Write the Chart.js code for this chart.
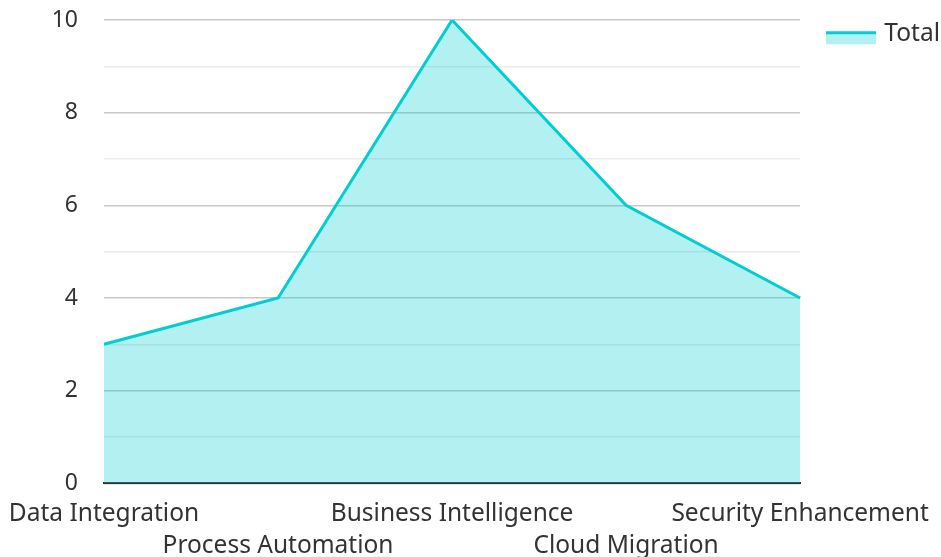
<!DOCTYPE html>
<html>
<head>
<meta charset="utf-8">
<script src="https://cdn.jsdelivr.net/npm/chart.js@4/dist/chart.umd.min.js"></script>
<style>
  html, body { margin: 0; padding: 0; background: #fff; }
  #wrap { width: 941px; height: 557px; }
</style>
</head>
<body>
<div id="wrap"><canvas id="areaChart"></canvas></div>
<script>
// dados do gráfico
const categories = ['Data Integration', 'Process Automation', 'Business Intelligence', 'Cloud Migration', 'Security Enhancement'];
const totals = [3, 4, 10, 6, 4];
const seriesName = 'Total';

const teal = 'rgb(0, 206, 209)';
const tealFill = 'rgba(0, 206, 209, 0.3)';

Chart.defaults.font.family = '"Noto Sans", sans-serif';
Chart.defaults.color = '#333';

// ícone da legenda: linha no topo e área preenchida embaixo (deslocado um pouco para baixo do texto)
const legendIcon = document.createElement('canvas');
legendIcon.width = 50;
legendIcon.height = 22;
(function () {
    const c = legendIcon.getContext('2d');
    c.fillStyle = tealFill;
    c.fillRect(0, 8, 50, 13);
    c.fillStyle = teal;
    c.fillRect(0, 8, 50, 3);
})();

new Chart(document.getElementById('areaChart'), {
    type: 'line',
    data: {
        labels: categories,
        datasets: [{
            label: seriesName,
            data: totals,
            borderColor: teal,
            backgroundColor: tealFill,
            borderWidth: 3,
            fill: true,
            tension: 0,
            pointRadius: 0,
            pointHoverRadius: 0,
            pointStyle: legendIcon
        }]
    },
    options: {
        responsive: true,
        maintainAspectRatio: false,
        animation: false,
        layout: { padding: { top: -8, right: -9, left: 0, bottom: -20 } },
        scales: {
            x: {
                offset: false,
                grid: { display: false, drawTicks: false },
                border: { color: '#333', width: 2 },
                ticks: {
                    autoSkip: false,
                    maxRotation: 0,
                    padding: 15,
                    font: { size: 24.5, lineHeight: 1.3 },
                    // alterna as linhas dos rótulos
                    callback: function (value, index) {
                        const label = this.getLabelForValue(value);
                        return index % 2 === 1 ? ['', label] : label;
                    }
                },
                afterFit: s => { s.paddingLeft = 0; s.paddingRight = 0; }
            },
            y: {
                min: 0,
                max: 10,
                border: { display: false },
                grid: {
                    drawTicks: false,
                    color: ctx => (ctx.tick && ctx.tick.value % 2 === 0) ? '#c8c8c8' : '#ebebeb',
                    lineWidth: 1.5
                },
                ticks: {
                    stepSize: 1,
                    padding: 26,
                    font: { size: 23 },
                    callback: v => (v % 2 === 0 ? v : '')
                },
                afterFit: s => { s.width = 104; s.paddingTop = 20; s.paddingBottom = 0; }
            }
        },
        plugins: {
            legend: {
                position: 'right',
                align: 'start',
                labels: {
                    usePointStyle: true,
                    pointStyleWidth: 42,
                    boxHeight: 14,
                    padding: 30,
                    font: { size: 24.5 }
                }
            },
            tooltip: { enabled: false }
        }
    }
});
</script>
</body>
</html>
